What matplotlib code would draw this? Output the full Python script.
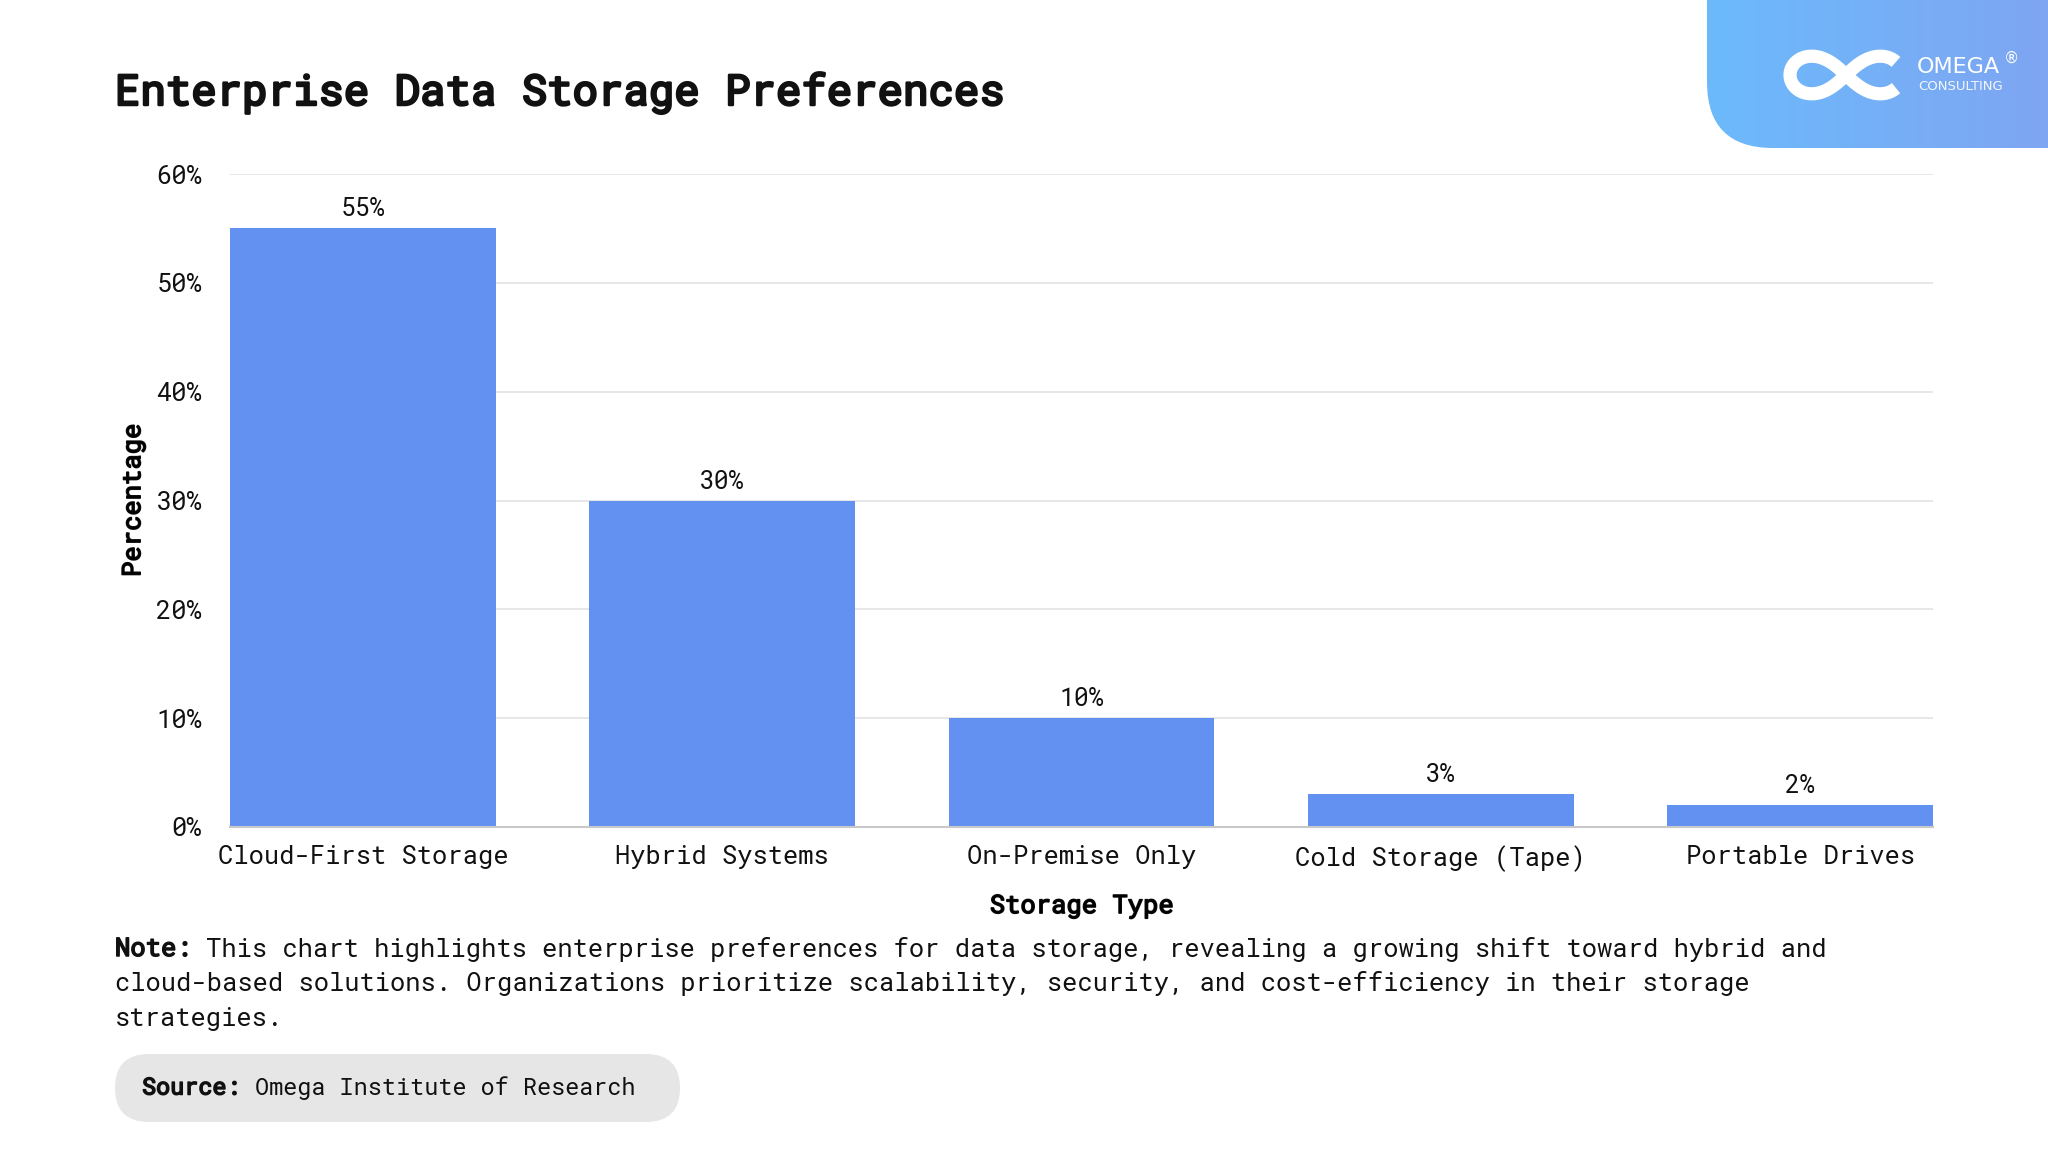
import matplotlib

matplotlib.use("Agg")
import matplotlib.pyplot as plt
import matplotlib.patheffects as pe
import numpy as np
from matplotlib import font_manager
from matplotlib.patches import FancyBboxPatch

# data
categories = ["Cloud-First Storage", "Hybrid Systems", "On-Premise Only",
              "Cold Storage (Tape)", "Portable Drives"]
shares = [55, 30, 10, 3, 2]
y_ticks = [0, 10, 20, 30, 40, 50, 60]

title = "Enterprise Data Storage Preferences"
note_lines = [
    "This chart highlights enterprise preferences for data storage, revealing a growing shift toward hybrid and",
    "cloud-based solutions. Organizations prioritize scalability, security, and cost-efficiency in their storage",
    "strategies.",
]
source = "Omega Institute of Research"

available = {f.name for f in font_manager.fontManager.ttflist}
mono = "Roboto Mono" if "Roboto Mono" in available else "DejaVu Sans Mono"
plt.rcParams["font.family"] = [mono]

INK = "#111111"


def bold(width=1.1):
    # the mono face only ships a regular weight here, so thicken the strokes
    return [pe.withStroke(linewidth=width, foreground=INK)]


W, H = 2048, 1152
fig = plt.figure(figsize=(W / 100, H / 100), dpi=100)
fig.patch.set_facecolor("white")

# main axes (pixel box: left 230, right 1933, top 174, bottom 827)
ax = fig.add_axes([230 / W, 1 - 827 / H, (1933 - 230) / W, (827 - 174) / H])
x = np.arange(len(categories))
bars = ax.bar(x, shares, width=0.74, color="#6391f2", zorder=2)
ax.set_xlim(-0.37, len(categories) - 1 + 0.37)
ax.set_ylim(0, 60)
ax.set_yticks(y_ticks)
ax.set_yticklabels([f"{t}%" for t in y_ticks])
ax.set_xticks(x)
ax.set_xticklabels(categories)
ax.tick_params(axis="both", length=0, labelsize=18.4, colors=INK)
ax.tick_params(axis="x", pad=13)
ax.tick_params(axis="y", pad=20)
ax.grid(axis="y", color="#e3e3e3", linewidth=1.2, zorder=0)
for side in ("top", "right", "left"):
    ax.spines[side].set_visible(False)
ax.spines["bottom"].set_color("#c8c8c8")
ax.spines["bottom"].set_linewidth(1.5)
xl = ax.set_xlabel("Storage Type", fontsize=18.4, labelpad=16)
yl = ax.set_ylabel("Percentage", fontsize=18.4, labelpad=8)
xl.set_path_effects(bold())
yl.set_path_effects(bold())
for rect, val in zip(bars, shares):
    ax.annotate(f"{val}%", (rect.get_x() + rect.get_width() / 2, val),
                xytext=(0, 5), textcoords="offset points",
                ha="center", va="bottom", fontsize=17.8, color=INK)

# overlay in pixel coordinates
ov = fig.add_axes([0, 0, 1, 1], zorder=5)
ov.set_xlim(0, W)
ov.set_ylim(H, 0)
ov.axis("off")
ov.patch.set_alpha(0)

ov.text(115, 93, title, fontsize=30.5, va="center", ha="left",
        color=INK, path_effects=bold(1.8))

# note
fig.canvas.draw()
renderer = fig.canvas.get_renderer()
inv = ov.transData.inverted()
note_fs = 18.4
lab = ov.text(115, 949, "Note: ", fontsize=note_fs, va="center", ha="left",
              color=INK, path_effects=bold())
ext = lab.get_window_extent(renderer)
x_after = inv.transform((ext.x1, ext.y0))[0]
ov.text(x_after, 949, note_lines[0], fontsize=note_fs, va="center", ha="left",
        color=INK)
for i, line in enumerate(note_lines[1:], start=1):
    ov.text(115, 949 + 35 * i, line, fontsize=note_fs, va="center", ha="left",
            color=INK)

# source pill
pill = FancyBboxPatch((115, 1054), 565, 68,
                      boxstyle="round,pad=0,rounding_size=34",
                      facecolor="#e6e6e6", edgecolor="none")
ov.add_patch(pill)
src_fs = 16.9
s_lab = ov.text(142, 1088, "Source: ", fontsize=src_fs, va="center",
                ha="left", color=INK, path_effects=bold())
ext = s_lab.get_window_extent(renderer)
ov.text(inv.transform((ext.x1, ext.y0))[0], 1088, source, fontsize=src_fs,
        va="center", ha="left", color=INK)

# logo badge with gradient
badge = FancyBboxPatch((1707, -200), 600, 348,
                       boxstyle="round,pad=0,rounding_size=66",
                       facecolor="none", edgecolor="none")
ov.add_patch(badge)
grad = np.linspace(0, 1, 256).reshape(1, -1)
cmap = matplotlib.colors.LinearSegmentedColormap.from_list(
    "badge", ["#6cbafb", "#7fa5f2"])
img = ov.imshow(grad, cmap=cmap, extent=(1707, W, 148, 0), aspect="auto",
                zorder=1)
img.set_clip_path(badge)
ov.set_xlim(0, W)
ov.set_ylim(H, 0)

# infinity mark, slightly open on the right like the brand glyph
t = np.linspace(0.28, 2 * np.pi - 0.28, 400)
cx, cy, a = 1846, 75, 56
lx = cx + a * np.cos(t) / (1 + np.sin(t) ** 2)
ly = cy + a * 0.95 * np.sin(t) * np.cos(t) / (1 + np.sin(t) ** 2)
ov.plot(lx, ly, color="white", linewidth=9.5, solid_capstyle="butt", zorder=2)
ov.text(1917, 67, "OMEGA", fontsize=16, color="white", va="center", ha="left",
        family="DejaVu Sans", zorder=3)
ov.text(2004, 58, "®", fontsize=11, color="white", va="center", ha="left",
        family="DejaVu Sans", zorder=3)
ov.text(1918, 86, "CONSULTING", fontsize=9.5, color="white", va="center",
        ha="left", family="DejaVu Sans", alpha=0.9, zorder=3)

fig.savefig("out.png", dpi=100)
